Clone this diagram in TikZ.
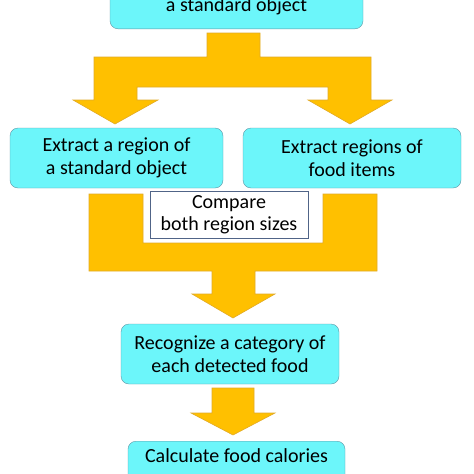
\documentclass[tikz,border=0pt]{standalone}
\usepackage{fontspec}
\setmainfont{Carlito}
\usepackage{xcolor}
\usetikzlibrary{positioning}

\definecolor{boxcyan}{RGB}{108,246,250}
\definecolor{boxline}{RGB}{95,150,165}
\definecolor{arrowgold}{RGB}{255,192,0}
\definecolor{arrowline}{RGB}{225,170,40}
\definecolor{cmpline}{RGB}{80,100,135}

\begin{document}
\begin{tikzpicture}[x=1pt,y=-1pt,
    stepbox/.style={draw=boxline,fill=boxcyan,rounded corners=8pt,align=center,inner sep=0pt,font=\fontsize{20}{22.5}\selectfont},
    cmpbox/.style={draw=cmpline,fill=white,align=center,inner sep=0pt,font=\fontsize{20}{22}\selectfont},
    blockarrow/.style={draw=arrowline,fill=arrowgold,line width=0.6pt}]
    \useasboundingbox (0,0) rectangle (474,474);
    \clip (0,0) rectangle (474,474);

    \path[blockarrow] (207,33) -- (260,33) -- (260,57) -- (371,57) -- (371,100) -- (392,100)
        -- (350,124) -- (308,100) -- (328,100) -- (328,87) -- (137,87) -- (137,100)
        -- (158,100) -- (115,124) -- (73,100) -- (94,100) -- (94,57) -- (207,57) -- cycle;
    \path[blockarrow] (89,194) -- (143,194) -- (143,243) -- (323,243) -- (323,194) -- (377,194)
        -- (377,271) -- (255,271) -- (255,294) -- (275,294) -- (233,318) -- (192,294)
        -- (212,294) -- (212,271) -- (89,271) -- cycle;
    \path[blockarrow] (212,388) -- (254,388) -- (254,413) -- (275,413) -- (233,435)
        -- (191,413) -- (212,413) -- cycle;

    \node(detect)[stepbox,anchor=south,minimum width=253pt,text height=57pt,text depth=17pt] at (236.5,29) {a standard object};

    \node(stdreg)[stepbox,minimum width=213pt,minimum height=60pt] at (116.5,158) {Extract a region of\\a standard object};
    \node(foodreg)[stepbox,minimum width=218pt,minimum height=60pt] at (352,158) {Extract regions of\\food items};

    \node(compare)[cmpbox,minimum width=158pt,minimum height=47pt] at (229,215) {Compare\\both region sizes};

    \node(recog)[stepbox,minimum width=218pt,minimum height=60pt] at (230,354) {Recognize a category of\\each detected food};

    \node(calorie)[stepbox,anchor=north,minimum width=217pt,text height=21pt,text depth=40pt] at (236.5,441) {Calculate food calories};

  \end{tikzpicture}
\end{document}
